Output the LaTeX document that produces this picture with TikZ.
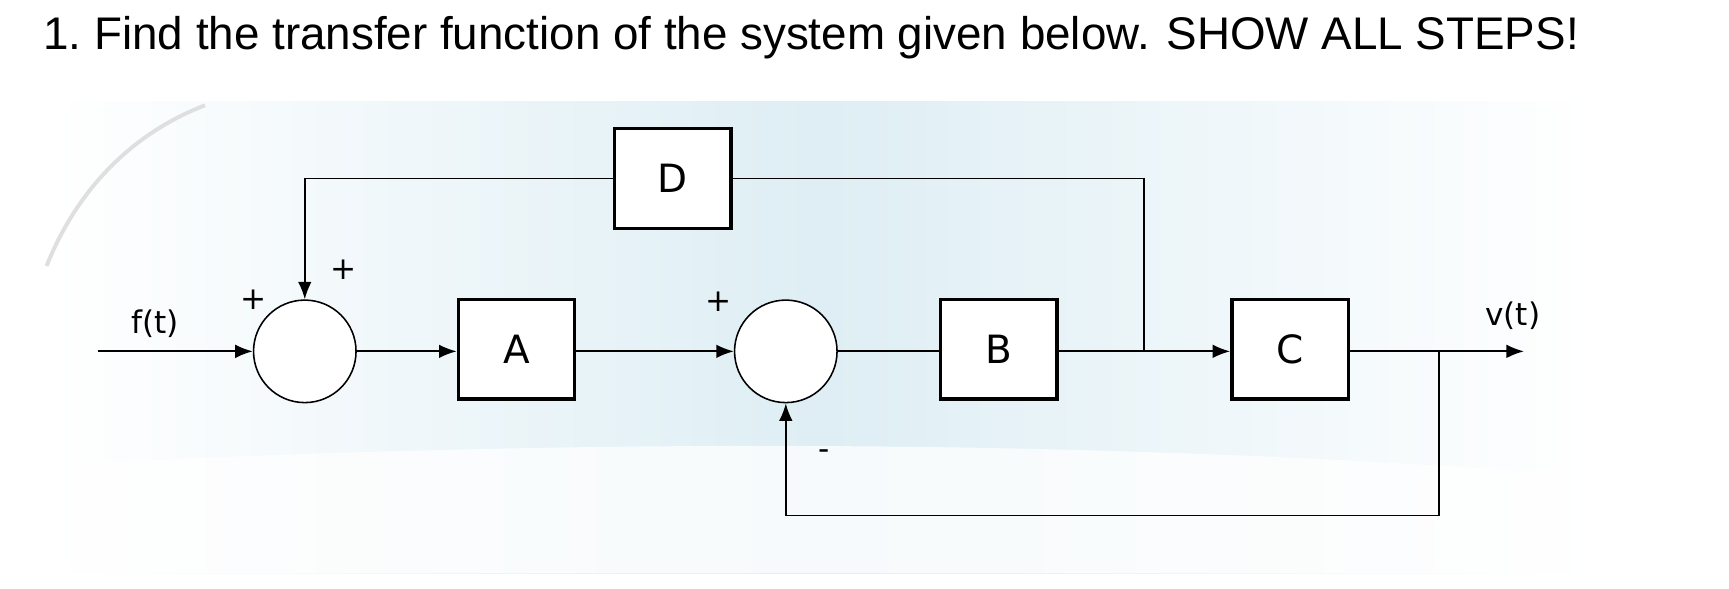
\documentclass[tikz,border=0pt]{standalone}
\usepackage{fontspec}
\setmainfont{Liberation Sans}
\newfontfamily\lbl{DejaVu Sans}
\usetikzlibrary{arrows.meta}
\definecolor{bgblue}{RGB}{222,238,244}
\begin{document}
\begin{tikzpicture}[x=0.02cm,y=-0.02cm,
  blk/.style={draw,line width=1.8pt,fill=white,minimum width=2.1cm,minimum height=1.8cm,font=\lbl\fontsize{20}{20}\selectfont},
  sumj/.style={draw,circle,fill=white,line width=0.8pt,minimum size=1.85cm,inner sep=0},
  ln/.style={line width=0.9pt},
  arr/.style={ln,-{Latex[length=9pt,width=7pt]}},
  sg/.style={font=\lbl\fontsize{16}{16}\selectfont}]
\useasboundingbox (0,0) rectangle (1560,531);
\fill[white] (0,0) rectangle (1560,531);
\shade[left color=white, right color=white, middle color=bgblue] (42,92) rectangle (1437,517);
\fill[white,opacity=0.75] (42,420) .. controls (500,395) and (1000,395) .. (1437,430) -- (1437,517) -- (42,517) -- cycle;
\draw[gray!25,line width=2pt] (42,240) .. controls (70,170) and (120,120) .. (185,95);
\node[anchor=base west,font=\fontsize{23.5}{24}\selectfont] (title) at (33,45) {1.\ Find the transfer function of the system given below. SHOW ALL STEPS!};
\node[sumj] (s1) at (275,317) {};
\node[sumj] (s2) at (709,317) {};
\node[blk] (D) at (607,161) {D};
\node[blk] (A) at (466,315) {A};
\node[blk] (B) at (901,315) {B};
\node[blk] (C) at (1164,315) {C};
\coordinate (in) at (88,317);
\coordinate (out) at (1375,317);
\coordinate (p1) at (1032,317);
\coordinate (p2) at (1298,317);
\draw[arr] (in) -- (s1);
\draw[arr] (s1) -- (A.west |- s1);
\draw[arr] (A.east |- s2) -- (s2);
\draw[ln] (s2) -- (B.west |- s2);
\draw[arr] (B.east |- p1) -- (C.west |- p1);
\draw[arr] (C.east |- p2) -- (out);
\draw[ln] (p1) |- (D.east);
\draw[arr] (D.west) -| (s1.north);
\draw[arr] (p2) -- (1298,465) -| (s2.south);
\node[sg] (f) at (140,292) {f(t)};
\node[sg] (v) at (1365,285) {v(t)};
\node[sg] (pa) at (229,270) {+};
\node[sg] (pb) at (310,243) {+};
\node[sg] (pc) at (648,272) {+};
\node[sg] (m) at (744,410) {-};
\end{tikzpicture}
\end{document}
